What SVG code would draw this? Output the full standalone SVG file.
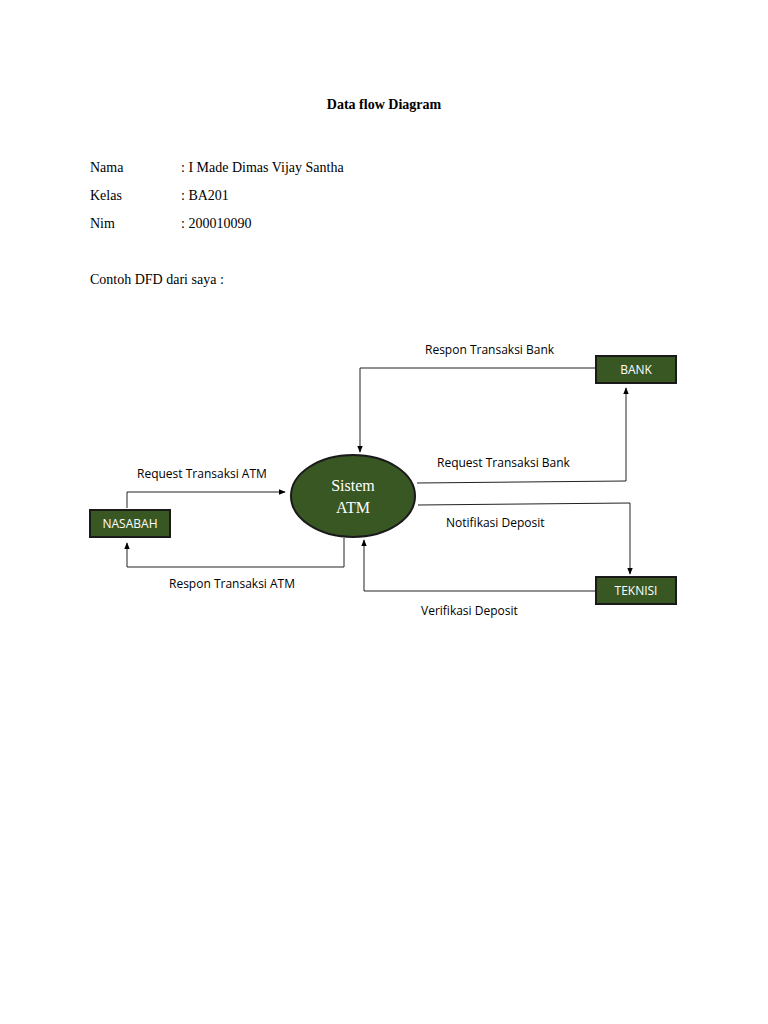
<svg xmlns="http://www.w3.org/2000/svg" width="768" height="1024" viewBox="0 0 768 1024">
<style>
.t{font-family:"Liberation Serif",serif;font-size:14px;fill:#000}
.l{font-family:"Open Sans","Noto Sans",sans-serif;font-size:12px;fill:#000}
.box{fill:#385723;stroke:#1a1a1a;stroke-width:2}
.bt{font-family:"Open Sans","Noto Sans",sans-serif;font-size:12px;fill:#fff;text-anchor:middle}
.c{fill:none;stroke:#222;stroke-width:1}
</style>
<defs><marker id="a" viewBox="0 0 10 10" refX="9" refY="5" markerWidth="7" markerHeight="7" orient="auto"><path d="M0,1L10,5L0,9z" fill="#000"/></marker></defs>
<rect width="768" height="1024" fill="#fff"/>
<text x="384" y="109" class="t" text-anchor="middle" font-weight="bold" font-size="16">Data flow Diagram</text>
<text x="90" y="172" class="t">Nama</text><text x="181" y="172" class="t">: I Made Dimas Vijay Santha</text>
<text x="90" y="200" class="t">Kelas</text><text x="181" y="200" class="t">: BA201</text>
<text x="90" y="228" class="t">Nim</text><text x="181" y="228" class="t">: 200010090</text>
<text x="90" y="284" class="t">Contoh DFD dari saya :</text>
<g id="connectors">
<path class="c" d="M127,508V492H285" marker-end="url(#a)"/>
<path class="c" d="M344,538V567H127V543" marker-end="url(#a)"/>
<path class="c" d="M595,368H360V452" marker-end="url(#a)"/>
<path class="c" d="M417,483L626,481V388" marker-end="url(#a)"/>
<path class="c" d="M418,505L630,503V574" marker-end="url(#a)"/>
<path class="c" d="M595,591H364V540" marker-end="url(#a)"/>
</g>
<g id="labels">
<text x="137" y="478" class="l">Request Transaksi ATM</text>
<text x="169" y="588" class="l">Respon Transaksi ATM</text>
<text x="425" y="354" class="l">Respon Transaksi Bank</text>
<text x="437" y="467" class="l">Request Transaksi Bank</text>
<text x="446" y="527" class="l">Notifikasi Deposit</text>
<text x="421" y="615" class="l">Verifikasi Deposit</text>
</g>
<g id="sistem"><ellipse cx="353" cy="496" rx="62" ry="41" class="box"/>
<text x="353" y="491" text-anchor="middle" font-family="Liberation Serif,serif" font-size="16" fill="#fff">Sistem</text>
<text x="353" y="513" text-anchor="middle" font-family="Liberation Serif,serif" font-size="16" fill="#fff">ATM</text></g>
<g id="nasabah"><rect x="90" y="510" width="80" height="27" class="box"/><text x="130" y="528" class="bt">NASABAH</text></g>
<g id="bank"><rect x="596" y="356" width="80" height="27" class="box"/><text x="636" y="374" class="bt">BANK</text></g>
<g id="teknisi"><rect x="596" y="577" width="80" height="27" class="box"/><text x="636" y="595" class="bt">TEKNISI</text></g>
</svg>
